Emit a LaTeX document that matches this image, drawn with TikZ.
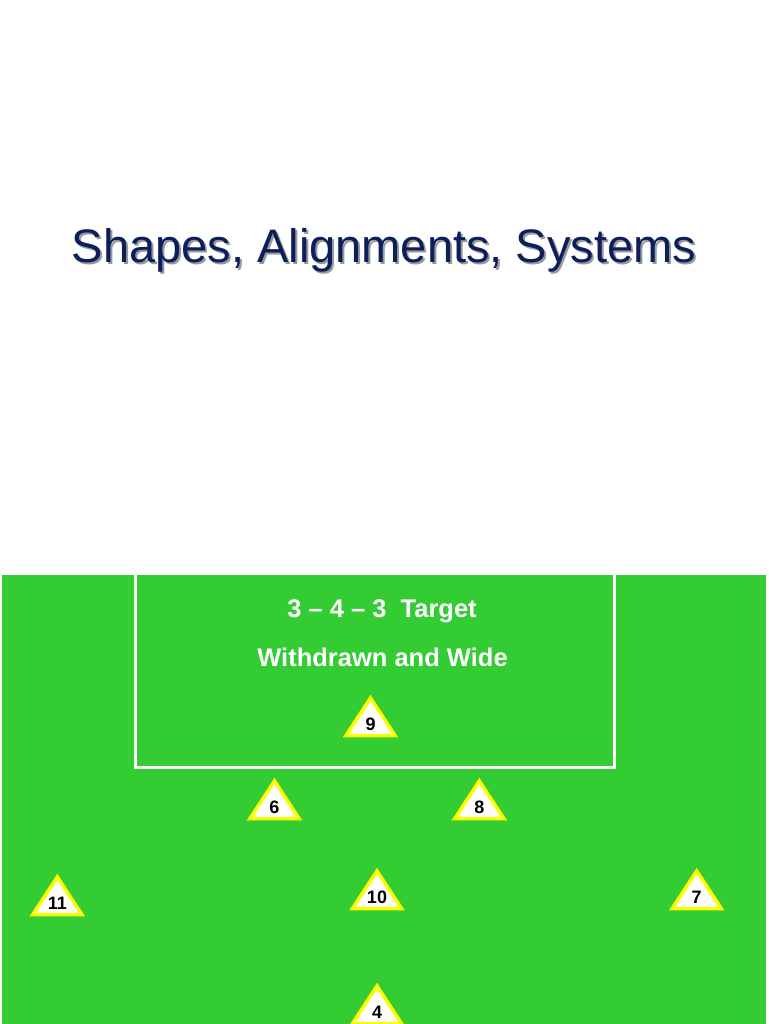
\documentclass[tikz,border=0pt]{standalone}
\usepackage{fontspec}
\setmainfont{Liberation Sans}
\usetikzlibrary{positioning}
\definecolor{pitchgreen}{HTML}{33CC33}
\definecolor{titlenavy}{HTML}{0D1E5C}
\definecolor{markeryellow}{HTML}{FFFF00}

\begin{document}
\begin{tikzpicture}[x=1pt, y=-1pt]
\tikzstyle{marker} = [draw=markeryellow, fill=white, line width=3.5pt, line join=miter]
\tikzstyle{shirt} = [anchor=base, inner sep=0pt, text=black, font=\fontsize{18}{20}\selectfont\bfseries]
\tikzstyle{caption} = [anchor=base, inner sep=0pt, text=white, font=\fontsize{25.5}{28}\selectfont\bfseries]
\tikzstyle{heading} = [anchor=base, inner sep=0pt, font=\fontsize{47}{52}\selectfont]

\useasboundingbox (0,0) rectangle (768,1024);
\fill[white] (0,0) rectangle (768,1024);

% Title with its shadow
\node (titleshadow) [heading, text=black!40] at (386,264) {Shapes, Alignments, Systems};
\node (title) [heading, text=titlenavy] at (384,262) {Shapes, Alignments, Systems};

% Pitch and box
\fill[pitchgreen] (2,575) rectangle (766,1024);
\draw[white, line width=3pt] (135,575) -- (135,767.5) -- (614.5,767.5) -- (614.5,575);

\node (system) [caption] at (382,617) {3 -- 4 -- 3\ \ Target};
\node (shape) [caption] at (382.5,666) {Withdrawn and Wide};

% Draw players
\foreach \x/\y/\n in {370.5/695/9, 274.5/778/6, 479.3/778/8, 57.3/874/11, 377/868/10, 696.7/868/7, 377/983/4} {
    \draw[marker] (\x,\y+3) -- (\x+24.5,\y+40.5) -- (\x-24.5,\y+40.5) -- cycle;
    \node (p\n) [shirt] at (\x,\y+35) {\n};
}

\end{tikzpicture}
\end{document}
